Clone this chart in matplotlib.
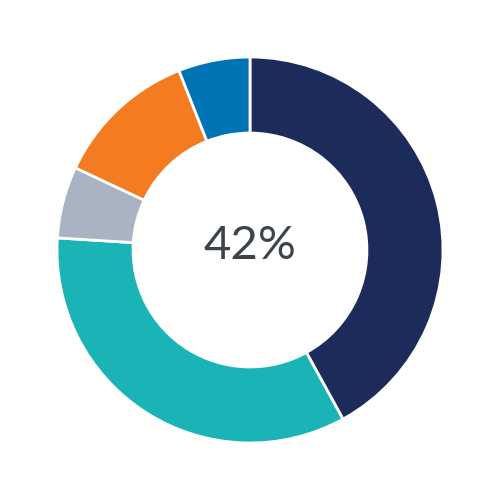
import matplotlib
matplotlib.use("Agg")
import matplotlib.pyplot as plt

shares = [42, 34, 6, 12, 6]
colors = ['#1c2b5a', '#1bb4b6', '#a9b3c1', '#f47b20', '#0073b5']
center_label = '42%'

fig = plt.figure(figsize=(5, 5), dpi=100)
ax = fig.add_axes([0, 0, 1, 1])
ax.pie(shares, colors=colors, startangle=90, counterclock=False,
       radius=1.0, wedgeprops=dict(width=0.394, edgecolor='white', linewidth=2))
ax.text(0, 0.02, center_label, ha='center', va='center', fontsize=34,
        family=['Lato', 'DejaVu Sans'], color='#3d4449')
lim = 250 / 193
ax.set_xlim(-lim, lim)
ax.set_ylim(-lim, lim)
ax.set_aspect('equal')
ax.axis('off')
fig.savefig('out.png', dpi=100, facecolor='white')
